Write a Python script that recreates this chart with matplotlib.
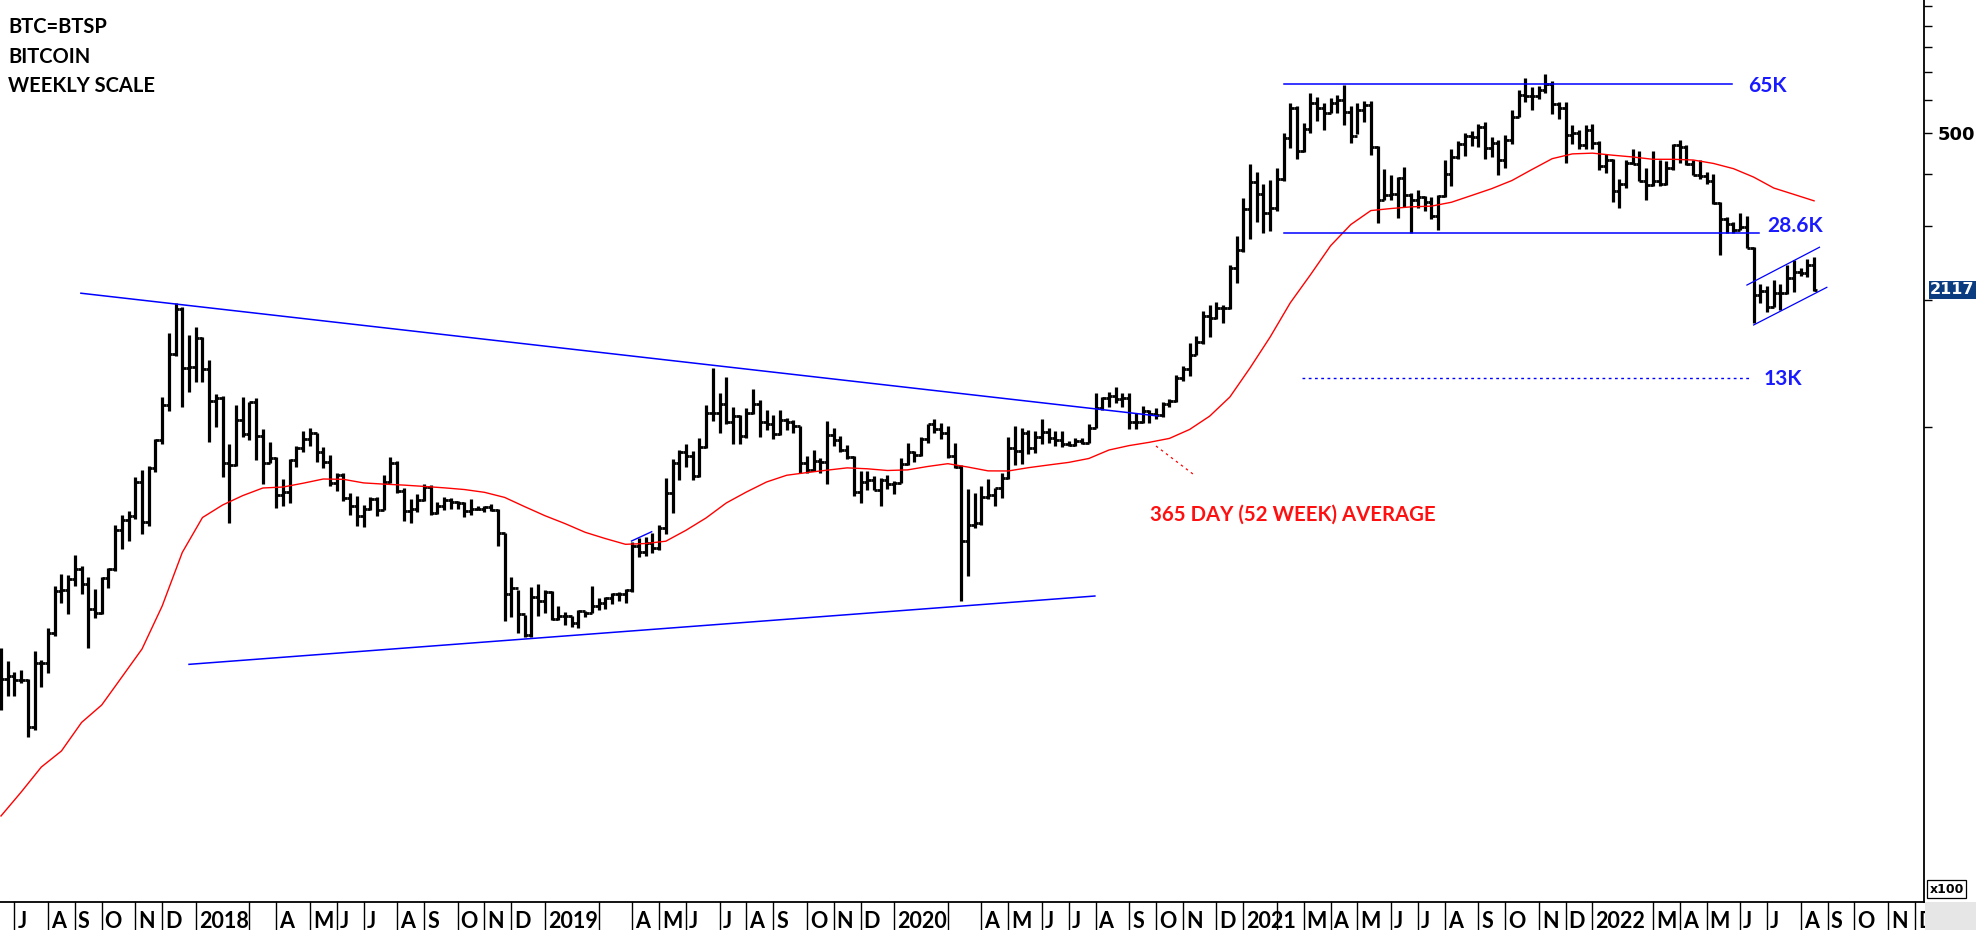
import numpy as np
import matplotlib
matplotlib.use('Agg')
import matplotlib.pyplot as plt
from matplotlib.patches import Rectangle
from matplotlib.ticker import NullLocator, FixedLocator, FixedFormatter
from matplotlib.transforms import blended_transform_factory

# ---------------- data (weekly bars, week ending Sunday) ----------------
first_week_end = '2017-06-18'
first_open = 2950

highs = [
    2980, 2780, 2620, 2640, 2520, 2940, 2800, 3320, 4190, 4460,
    4450, 4960, 4670, 4400, 4110, 4400, 4610, 5850, 6170, 6310,
    7590, 7890, 8070, 9350, 11760, 16700, 19700, 19300, 16560, 17310,
    16340, 14430, 11970, 11880, 9120, 11280, 11760, 11480, 11700, 9880,
    9200, 8470, 7510, 8380, 9010, 9790, 9950, 9700, 8940, 8580,
    7770, 7770, 6950, 6850, 6520, 6830, 6820, 7700, 8500, 8300,
    7180, 6730, 6920, 7310, 7270, 6620, 6830, 6790, 6670, 6630,
    6750, 6500, 6480, 6550, 6400, 5600, 4405, 4100, 3570, 4160,
    4240, 4100, 4070, 3750, 3630, 3560, 3680, 3660, 4190, 3920,
    3950, 4020, 4050, 4130, 5340, 5440, 5470, 5610, 5840, 7550,
    8390, 8830, 9120, 8790, 9400, 11280, 13820, 12070, 13170, 11170,
    10670, 11070, 12300, 11600, 10980, 10670, 10980, 10530, 10380, 10080,
    8530, 8830, 8420, 10350, 9920, 9530, 9070, 8530, 7840, 7840,
    7660, 7550, 7700, 7450, 8420, 9180, 8760, 9480, 10190, 10470,
    10220, 10040, 9180, 8120, 7130, 6980, 7240, 7520, 7180, 7780,
    9450, 10040, 9920, 9830, 9760, 10420, 9960, 9760, 9760, 9250,
    9400, 9400, 10190, 12070, 11800, 12130, 12470, 12040, 12040, 10770,
    11210, 11000, 11070, 11450, 11650, 13320, 14000, 15880, 16500, 18870,
    19460, 19820, 19460, 24300, 28470, 35000, 42220, 40410, 37860, 38720,
    41170, 49950, 58780, 57950, 52920, 62140, 60800, 59000, 60460, 61600,
    65060, 57950, 58780, 59640, 59640, 46540, 40950, 39700, 39340, 41400,
    35960, 36620, 35430, 35180, 35630, 43220, 45700, 47820, 50080, 50640,
    52530, 53170, 49000, 48140, 49450, 56580, 63260, 67500, 64460, 64700,
    69000, 66300, 59300, 59300, 52250, 50820, 52250, 52530, 47940, 44610,
    43370, 38930, 43220, 45750, 45360, 41170, 45360, 43220, 42820, 46970,
    48000, 46780, 43220, 43060, 40410, 40040, 34330, 31650, 30800, 32330,
    31780, 26800, 21860, 21620, 22340, 21860, 24300, 24880, 23860, 25070,
    25340,
]

lows = [
    2120, 2290, 2290, 2460, 1830, 1900, 2410, 2600, 3180, 3810,
    3600, 4190, 4010, 2980, 3510, 3600, 4140, 4550, 5120, 5370,
    6040, 5560, 5830, 7800, 9100, 10920, 14750, 11170, 12090, 12810,
    12810, 9230, 9990, 7620, 5920, 8070, 9480, 9300, 8350, 7320,
    8200, 6430, 6500, 6610, 8050, 8700, 9000, 8250, 7980, 7240,
    7050, 6670, 6160, 5800, 5780, 6340, 6140, 6340, 7350, 6950,
    5990, 5920, 6280, 6670, 6160, 6210, 6340, 6400, 6400, 6110,
    6160, 6340, 6280, 6310, 5200, 3465, 3530, 3230, 3160, 3175,
    3550, 3606, 3480, 3480, 3390, 3340, 3330, 3530, 3606, 3680,
    3690, 3790, 3860, 3820, 4060, 4920, 4940, 5010, 5100, 5580,
    6250, 7500, 8020, 7470, 7610, 8910, 10360, 9680, 10180, 9120,
    9120, 9400, 10750, 9480, 9850, 9350, 9580, 9850, 9680, 7790,
    7790, 7840, 7790, 7320, 8990, 8730, 8380, 6850, 6590, 7100,
    7080, 6490, 7130, 6920, 7340, 8120, 8270, 8530, 9150, 9680,
    9350, 8420, 7980, 3850, 4430, 5740, 5840, 6750, 6500, 6790,
    7540, 8120, 8170, 8630, 8660, 9120, 9180, 8990, 8940, 8990,
    9030, 9100, 9150, 9920, 11000, 11170, 11380, 11170, 9870, 9870,
    10220, 10220, 10470, 10550, 11170, 11450, 12840, 13250, 14860, 15790,
    16340, 18080, 17640, 19120, 22050, 26100, 27920, 30640, 29000, 29320,
    32550, 38370, 45960, 43370, 45130, 50080, 53470, 50820, 55670, 55840,
    52250, 47400, 49730, 53170, 44390, 30520, 34640, 34640, 31390, 33380,
    28900, 33090, 32650, 31220, 29440, 35300, 37500, 43380, 44180, 46540,
    46280, 43380, 43810, 39700, 41170, 47130, 54700, 59300, 56800, 60100,
    62300, 55600, 53860, 42440, 46970, 45750, 45750, 45750, 40810, 40090,
    34330, 33250, 36950, 42090, 38370, 34640, 37500, 37500, 37700, 40810,
    42440, 42000, 39700, 38930, 37860, 33900, 25650, 28900, 29000, 29440,
    26570, 17640, 19710, 18770, 19290, 19010, 20750, 20970, 22860, 22780,
    21100,
]

closes = [
    2510, 2560, 2500, 2500, 1930, 2740, 2740, 3230, 4070, 4100,
    4350, 4590, 4230, 3700, 3620, 4380, 4600, 5680, 6000, 6150,
    7380, 5950, 8000, 9300, 11250, 14900, 19100, 13800, 13900, 16300,
    13700, 11500, 11700, 8200, 8100, 10400, 9600, 11450, 9500, 8200,
    8460, 6900, 7000, 8350, 8900, 9350, 9650, 8700, 8250, 7350,
    7700, 6780, 6500, 6150, 6380, 6750, 6350, 7400, 8200, 7050,
    6300, 6400, 6700, 7200, 6250, 6500, 6700, 6620, 6600, 6300,
    6400, 6400, 6440, 6350, 5600, 4000, 4150, 3600, 3200, 3950,
    3850, 4050, 3500, 3550, 3550, 3420, 3650, 3620, 3750, 3820,
    3930, 4000, 4000, 4100, 5200, 5050, 5300, 5150, 5750, 6950,
    8200, 8740, 8550, 7650, 8950, 10800, 10800, 11350, 10300, 10600,
    9500, 10800, 11350, 10300, 10150, 9600, 10400, 10300, 10050, 8200,
    7900, 8300, 8250, 9550, 9300, 8800, 8500, 7000, 7400, 7500,
    7100, 7500, 7300, 7350, 8150, 8700, 8600, 9350, 10150, 9900,
    9700, 8550, 8050, 5350, 5850, 5900, 6800, 6900, 7150, 7550,
    8900, 8750, 9650, 8900, 9450, 9750, 9400, 9300, 9100, 9050,
    9250, 9150, 9950, 11100, 11700, 11850, 11650, 11700, 10250, 10300,
    10900, 10750, 10650, 11350, 11500, 13050, 13750, 14850, 15950, 18400,
    18200, 19150, 19150, 23850, 26300, 33000, 38150, 35800, 32300, 33100,
    38900, 48600, 57400, 45200, 51200, 59000, 57400, 55800, 58800, 60000,
    56000, 49100, 56600, 58200, 46400, 34700, 35600, 35800, 39000, 35600,
    34700, 35300, 34250, 31800, 35400, 39850, 43800, 47100, 49300, 48800,
    51750, 46000, 47250, 43200, 48200, 54650, 61500, 61300, 61300, 63250,
    65450, 58700, 57200, 49400, 50100, 46700, 50800, 47300, 41850, 43100,
    36300, 37900, 42400, 42200, 38400, 37700, 38400, 37800, 41300, 46800,
    46400, 42200, 39700, 39500, 38450, 34050, 31300, 30300, 29450, 29900,
    26600, 20550, 21050, 19300, 20850, 20800, 22600, 23300, 23200, 24300,
    21170,
]

# 365-day (52 week) average, read every 3 weeks
ma_step = 3
ma_values = [
    1189, 1355, 1554, 1697, 1984, 2183, 2544, 2966, 3752, 5033,
    6091, 6524, 6869, 7161, 7199, 7351, 7522, 7508, 7363, 7314,
    7275, 7223, 7167, 7101, 6993, 6801, 6464, 6153, 5892, 5618,
    5429, 5261, 5284, 5351, 5680, 6078, 6596, 7005, 7400, 7678,
    7791, 7894, 7995, 7955, 7881, 7907, 8056, 8180, 8030, 7864,
    7860, 8003, 8122, 8238, 8416, 8816, 9032, 9195, 9394, 9864,
    10614, 11783, 13814, 16367, 19737, 23008, 26971, 30281, 32702, 33067,
    33374, 33500, 34226, 35518, 36872, 38546, 40955, 43444, 44598, 44780,
    44282, 43849, 43298, 43298, 43128, 42332, 41131, 39278, 36994, 35725,
    34490,
]

# month labels Jul 2017 .. Dec 2022 (None: no separator, '': separator only)
month_labels = (
    ['J', 'A', 'S', 'O', 'N', 'D'] +
    ['2018', None, '', 'A', 'M', 'J', 'J', 'A', 'S', 'O', 'N', 'D'] +
    ['2019', None, '', 'A', 'M', 'J', 'J', 'A', 'S', 'O', 'N', 'D'] +
    ['2020', None, '', 'A', 'M', 'J', 'J', 'A', 'S', 'O', 'N', 'D'] +
    ['2021', '', 'M', 'A', 'M', 'J', 'J', 'A', 'S', 'O', 'N', 'D'] +
    ['2022', None, 'M', 'A', 'M', 'J', 'J', 'A', 'S', 'O', 'N', 'D']
)

# drawn trend lines: (week index, price) end points
tri_upper = [(11.9, 20800), (172.3, 10620)]
tri_lower = [(28.0, 2727), (162.9, 3964)]
small_line = [(93.9, 5357), (96.9, 5637)]
res_65k = [(191.0, 65260), (257.8, 65260)]
sup_286k = [(191.0, 28880), (261.8, 28880)]
tgt_13k = [(193.7, 13055), (260.5, 13055)]
chan_upper = [(260.0, 21750), (270.8, 26750)]
chan_lower = [(261.0, 17480), (271.9, 21480)]
ma_pointer = [(172.0, 9012), (177.7, 7689)]

right_ticks = [10000 * k for k in range(1, 11)]
last_label = '2117'

# ---------------- figure ----------------
W, H = 1976, 930
fig = plt.figure(figsize=(W / 100, H / 100), dpi=100)
fig.patch.set_facecolor('white')
ax = fig.add_axes([0, 28 / H, 1924 / W, 902 / H])

n = len(closes)
idx = np.arange(n)
opens = [first_open] + closes[:-1]

LAB = ['Lato', 'DejaVu Sans']
BLUE = '#0000ff'
TBLUE = '#1a1aff'
RED = '#ff0000'

# OHLC bars
ax.vlines(idx, lows, highs, color='black', lw=2.3)
ax.hlines(opens, idx - 0.5, idx, color='black', lw=2.0)
ax.hlines(closes, idx, idx + 0.5, color='black', lw=2.0)

# moving average
ax.plot(np.arange(0, n, ma_step), ma_values, color=RED, lw=1.0)

def seg(pts, **kw):
    ax.plot([p[0] for p in pts], [p[1] for p in pts], **kw)

seg(tri_upper, color=BLUE, lw=1.1)
seg(tri_lower, color=BLUE, lw=1.1)
seg(small_line, color=BLUE, lw=1.0)
seg(res_65k, color=BLUE, lw=1.1)
seg(sup_286k, color=BLUE, lw=1.1)
seg(tgt_13k, color=BLUE, lw=1.0, ls=(0, (2, 2.5)))
seg(chan_upper, color=BLUE, lw=0.9)
seg(chan_lower, color=BLUE, lw=0.9)
seg(ma_pointer, color=RED, lw=0.9, ls=(0, (2, 3)))

# annotation texts
ax.text(260.2, 62690, '65K', color=TBLUE, fontsize=15, fontweight='bold', family=LAB,
        ha='left', va='baseline')
ax.text(263.1, 29130, '28.6K', color=TBLUE, fontsize=15, fontweight='bold', family=LAB,
        ha='left', va='baseline')
ax.text(262.5, 12585, '13K', color=TBLUE, fontsize=15, fontweight='bold', family=LAB,
        ha='left', va='baseline')
ax.text(171.1, 5987, '365 DAY (52 WEEK) AVERAGE', color='#ff1010', fontsize=14.7,
        fontweight='bold', family=LAB, ha='left', va='baseline')

# axes setup
ax.set_yscale('log')
ax.set_ylim(742.4, 103560)
ax.set_xlim(-0.149, 286.37)
ax.set_xticks([])
ax.spines['top'].set_visible(False)
ax.spines['left'].set_visible(False)
ax.spines['right'].set_linewidth(1.3)
ax.spines['bottom'].set_linewidth(1.3)
ax.yaxis.set_ticks_position('right')
ax.yaxis.set_major_locator(FixedLocator(right_ticks))
ax.yaxis.set_major_formatter(FixedFormatter(['500' if t == 50000 else '' for t in right_ticks]))
ax.yaxis.set_minor_locator(NullLocator())
ax.tick_params(axis='y', which='major', direction='out', length=6, width=1,
               pad=4, labelsize=13, colors='black')
for lbl in ax.get_yticklabels():
    lbl.set_fontweight('bold')
    lbl.set_family('DejaVu Sans')

# last value label (box runs to the figure edge, text fits inside)
bt = blended_transform_factory(ax.transAxes, ax.transData)
fig.patches.append(Rectangle((1929 / W, 0), (W - 1929) / W, 1, transform=blended_transform_factory(
    fig.transFigure, ax.transData), fc='none', ec='none'))
lbl_last = ax.text(1.0032, closes[-1], last_label, transform=bt, color='white', fontsize=11.5,
                   fontweight='bold', family='DejaVu Sans', ha='left', va='center', clip_on=False,
                   bbox=dict(boxstyle='square,pad=0.1', fc='#0b3c7f', ec='none'))

# month separators and labels
n_axis = 287
week_end = np.datetime64(first_week_end) + np.arange(n_axis) * np.timedelta64(7, 'D')
wk_month = week_end.astype('datetime64[M]')
months = np.arange(np.datetime64('2017-07'), np.datetime64('2023-01'))
xt = ax.get_xaxis_transform()
for m, lab in zip(months, month_labels):
    if lab is None:
        continue
    hit = np.nonzero(wk_month == m)[0]
    if len(hit) == 0:
        continue
    xi = hit[0]
    ax.plot([xi, xi], [0, -28 / 902], color='black', lw=1.0, transform=xt, clip_on=False)
    if lab:
        ax.text(xi + 0.45, -25.5 / 902, lab, transform=xt, fontsize=15.5, fontweight='bold',
                family=LAB, ha='left', va='baseline', clip_on=False)

# title block
for txt, yb in [('BTC=BTSP', 33.3), ('BITCOIN', 63.3), ('WEEKLY SCALE', 91.7)]:
    fig.text(8 / W, 1 - yb / H, txt, fontsize=14.5, fontweight='bold', family=LAB,
             ha='left', va='baseline', color='black')

# bottom-right grey corner and x100 box
fig.patches.append(Rectangle((1925 / W, 0), (W - 1925) / W, 28 / H, transform=fig.transFigure,
                             fc='#e6e6e6', ec='none', zorder=0))
fig.text(1946.5 / W, 1 - 889 / H, 'x100', fontsize=9, fontweight='bold', family='DejaVu Sans',
         ha='center', va='center',
         bbox=dict(boxstyle='square,pad=0.22', fc='white', ec='black', lw=0.9))

fig.savefig('out.png', dpi=100, facecolor='white')
